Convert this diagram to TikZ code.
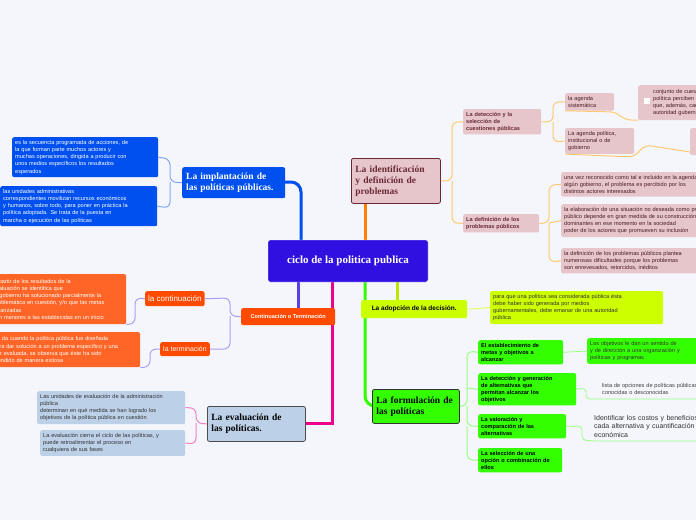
\documentclass[tikz,border=0pt]{standalone}
\usepackage{fontspec}
\setmainfont{Liberation Serif}
\setsansfont{Liberation Sans}
\usetikzlibrary{positioning}
\definecolor{bg}{HTML}{F4F6FC}
\definecolor{cen}{HTML}{3010E0}
\definecolor{pinkf}{HTML}{E6C6CB}
\definecolor{maro}{HTML}{6A2A34}
\definecolor{blu}{HTML}{0050F0}
\definecolor{ora}{HTML}{FF4A00}
\definecolor{lb}{HTML}{BCD0E8}
\definecolor{yg}{HTML}{CCFF00}
\definecolor{gr}{HTML}{33FF00}
\definecolor{orl}{HTML}{FFC870}
\tikzset{
 tiny/.style={font=\sffamily\fontsize{5.6}{7.2}\selectfont,align=left,inner sep=3pt,anchor=north west,rounded corners=2pt},
 big/.style={font=\bfseries\fontsize{9.5}{11}\selectfont,align=left,inner sep=4pt,anchor=north west,rounded corners=2pt},
 cn/.style={line width=1pt,rounded corners=6pt},
 thick3/.style={line width=3pt},
}
\begin{document}
\begin{tikzpicture}[x=1pt,y=-1pt]
\useasboundingbox (0,0) rectangle (696,520);
\fill[bg] (0,0) rectangle (696,520);
\clip (0,0) rectangle (696,520);
% main connectors
\draw[thick3,blu,rounded corners=10pt] (285,182) -- (301,182) -- (301,240);
\draw[thick3,orange] (365,203) -- (365,240);
\draw[thick3,cen!80!white] (298,282) -- (298,308);
\draw[thick3,magenta] (332,282) -- (332,423) -- (305,423);
\draw[thick3,gr,rounded corners=10pt] (365,282) -- (365,406) -- (372,406);
\draw[thick3,yg!80!olive,rounded corners=6pt] (397,282) -- (397,300);
% center
\node[fill=cen,draw=white,minimum width=160,minimum height=42,inner sep=0,rounded corners=2pt,font=\bfseries\fontsize{11}{13}\selectfont,text=white] (c) at (348,261) {ciclo de la politica publica};
% identificacion
\node[big,fill=pinkf,draw=maro,text=maro,text width=81,minimum height=45,line width=0.8pt] (id) at (351,158) {La identificación\\y definición de\\problemas};
\node[tiny,fill=pinkf,text=maro,font=\sffamily\bfseries\fontsize{5.6}{7}\selectfont,text width=72] (det) at (463,109) {La detección y la\\selección de\\cuestiones públicas};
\node[tiny,fill=pinkf,text=maro,font=\sffamily\bfseries\fontsize{5.6}{7}\selectfont,text width=70] (def) at (463,214) {La definición de los\\problemas públicos};
\draw[orl,cn] (id.east) -- (452,181) -- (452,122) -- (det.west);
\draw[orl,cn] (452,181) -- (452,223) -- (def.west);
\node[tiny,fill=pinkf,text=maro!70!black,text width=43] (ag1) at (565,93) {la agenda\\sistemática};
\node[tiny,fill=pinkf,text=maro!70!black,text width=63] (ag2) at (565,128) {La agenda política,\\institucional o de\\gobierno};
\draw[orl,cn] (det.east) -- (553,122) -- (553,102) -- (ag1.west);
\draw[orl,cn] (553,122) -- (553,142) -- (ag2.west);
\node[tiny,fill=pinkf,text=maro!70!black,text width=120,minimum height=35] (cj) at (638,85) {\hspace*{12pt}conjunto de cuestiones que los\\\hspace*{12pt}política perciben como merecedoras\\\hspace*{12pt}que, además, caen dentro de la\\\hspace*{12pt}autoridad gubernamental};
\fill[white] (644,98) rectangle (650,104);
\node[tiny,fill=pinkf,minimum width=30,minimum height=27] (cj2) at (690,128) {};
\draw[orl,cn] (ag1.south west) -- (616,112) -- (625,120) -- (638,120);
\draw[orl,cn] (ag2.south west) -- (634,157) -- (645,145) -- (690,152);
\node[tiny,fill=pinkf,text=maro!70!black,text width=150] (d1) at (561,172) {una vez reconocido como tal e incluido en la agenda de\\algún gobierno, el problema es percibido por los\\distintos actores interesados};
\node[tiny,fill=pinkf,text=maro!70!black,text width=180] (d2) at (561,204) {la elaboración de una situación no deseada como problema\\público depende en gran medida de su construcción\\dominantes en ese momento en la sociedad\\poder de los actores que promueven su inclusión};
\node[tiny,fill=pinkf,text=maro!70!black,text width=150] (d3) at (561,248) {la definición de los problemas públicos plantea\\numerosas dificultades porque los problemas\\son enrevesados, retorcidos, inéditos};
\draw[orl,cn] (def.east) -- (549,223) -- (549,185) -- (d1.west);
\draw[orl,cn] (549,223) -- (d2.west);
\draw[orl,cn] (549,223) -- (549,262) -- (d3.west);
% implantacion
\node[big,fill=blu,text=white,text width=95,minimum height=31] (im) at (182,167) {La implantación de\\las políticas públicas.};
\node[tiny,fill=blu,text=white,text width=140] (i1) at (12,137) {es la secuencia programada de acciones, de\\la que forman parte muchos actores y\\muchas operaciones, dirigida a producir con\\unos medios específicos los resultados\\esperados};
\node[tiny,fill=blu,text=white,text width=151] (i2) at (0,186) {las unidades administrativas\\ correspondientes movilizan recursos económicos\\y humanos, sobre todo, para poner en práctica la\\política adoptada. Se trata de la puesta en\\marcha o ejecución de las políticas};
\draw[blu!50,cn] (im.west) -- (170,182) -- (170,159) -- (i1.east);
\draw[blu!50,cn] (170,182) -- (170,208) -- (i2.east);
% continuacion
\node[tiny,fill=ora,text=white,font=\sffamily\bfseries\fontsize{5.6}{7}\selectfont,minimum width=94,minimum height=17,align=center] (ct) at (241,308) {Continuación o Terminación};
\node[tiny,fill=ora,text=white,font=\sffamily\fontsize{8}{9}\selectfont,minimum height=15] (cc) at (145,291) {la continuación};
\node[tiny,fill=ora,text=white,font=\sffamily\fontsize{7}{8}\selectfont,minimum height=14] (tt) at (160,342) {la terminación};
\draw[cen!40,cn] (ct.west) -- (230,316) -- (230,298) -- (cc.east);
\draw[cen!40,cn] (230,316) -- (230,349) -- (tt.east);
\node[tiny,fill=ora!85!white,text=white,text width=130,minimum height=50] (c1) at (-10,274) {A partir de los resultados de la\\evaluación se identifica que\\el gobierno ha solucionado parcialmente la\\problemática en cuestión, y/o que las metas\\alcanzadas\\son menores a las establecidas en un inicio};
\node[tiny,fill=ora!85!white,text=white,text width=144,minimum height=35] (t1) at (-10,332) {Se da cuando la política pública fue diseñada\\para dar solución a un problema específico y una\\vez evaluada, se observa que éste ha sido\\atendido de manera exitosa};
\draw[cen!40,cn] (cc.west) -- (135,298) -- (135,324) -- (c1.south east);
\draw[cen!40,cn] (tt.west) -- (150,349) -- (150,367) -- (t1.south east);
% evaluacion
\node[big,fill=lb,draw=black!70,text width=90,minimum height=35,line width=0.8pt] (ev) at (207,406) {La evaluación de\\las políticas.};
\node[tiny,fill=lb,text=black!80,text width=142] (e1) at (37,391) {Las unidades de evaluación de la administración\\pública\\determinan en qué medida se han logrado los\\objetivos de la política pública en cuestión};
\node[tiny,fill=lb,text=black!80,text width=139] (e2) at (40,430) {La evaluación cierra el ciclo de las políticas, y\\puede retroalimentar el proceso en\\cualquiera de sus fases};
\draw[magenta!50,cn] (ev.west) -- (196,423) -- (196,408) -- (e1.east);
\draw[magenta!50,cn] (196,423) -- (196,444) -- (e2.east);
% adopcion
\node[tiny,fill=yg,font=\sffamily\bfseries\fontsize{6.5}{8}\selectfont,minimum width=106,minimum height=18] (ad) at (361,300) {La adopción de la decisión.};
\node[tiny,fill=yg,text=black!80,text width=167] (a1) at (490,291) {para que una política sea considerada pública ésta\\debe haber sido generada por medios\\gubernamentales, debe emanar de una autoridad\\pública};
\draw[yg!60,cn] (ad.east) -- (a1.west);
% formulacion
\node[big,fill=gr,draw=black!80,text width=79,minimum height=34,line width=0.8pt] (fo) at (372,389) {La formulación de\\las políticas};
\tikzset{gb/.style={tiny,fill=gr,font=\sffamily\bfseries\fontsize{5.6}{7}\selectfont}}
\node[gb,text width=79] (f1) at (478,340) {El establecimiento de\\metas y objetivos a\\alcanzar};
\node[gb,text width=92] (f2) at (478,373) {La detección y generación\\de alternativas que\\permitan alcanzar los\\objetivos};
\node[gb,text width=82] (f3) at (478,414) {La valoración y\\comparación de las\\alternativas};
\node[gb,text width=78] (f4) at (478,448) {La selección de una\\opción o combinación de\\ellos};
\draw[gr!50,cn] (fo.east) -- (467,406) -- (467,351) -- (f1.west);
\draw[gr!50,cn] (467,388) -- (f2.west);
\draw[gr!50,cn] (467,406) -- (467,426) -- (f3.west);
\draw[gr!50,cn] (467,426) -- (467,460) -- (f4.west);
\node[tiny,fill=gr,text=black!80,text width=140] (g1) at (587,338) {Los objetivos le dan un sentido de\\y de dirección a una organización y\\políticas y programas};
\node[tiny,text=black!75,text width=130] (g2) at (599,380) {lista de opciones de políticas públicas\\conocidas o desconocidas};
\node[tiny,text=black!80,font=\sffamily\fontsize{7}{8.5}\selectfont,text width=130] (g3) at (591,412) {Identificar los costos y beneficios de\\cada alternativa y cuantificación\\económica};
\draw[gr!50,line width=0.8pt] (f1.east) -- (g1.west);
\draw[gr!50,line width=0.8pt,rounded corners=4pt] (f2.east) -- (586,388) -- (586,399) -- (696,399);
\draw[gr!50,line width=0.8pt,rounded corners=4pt] (f3.east) -- (582,426) -- (582,440) -- (594,441) -- (696,441);
\end{tikzpicture}
\end{document}
